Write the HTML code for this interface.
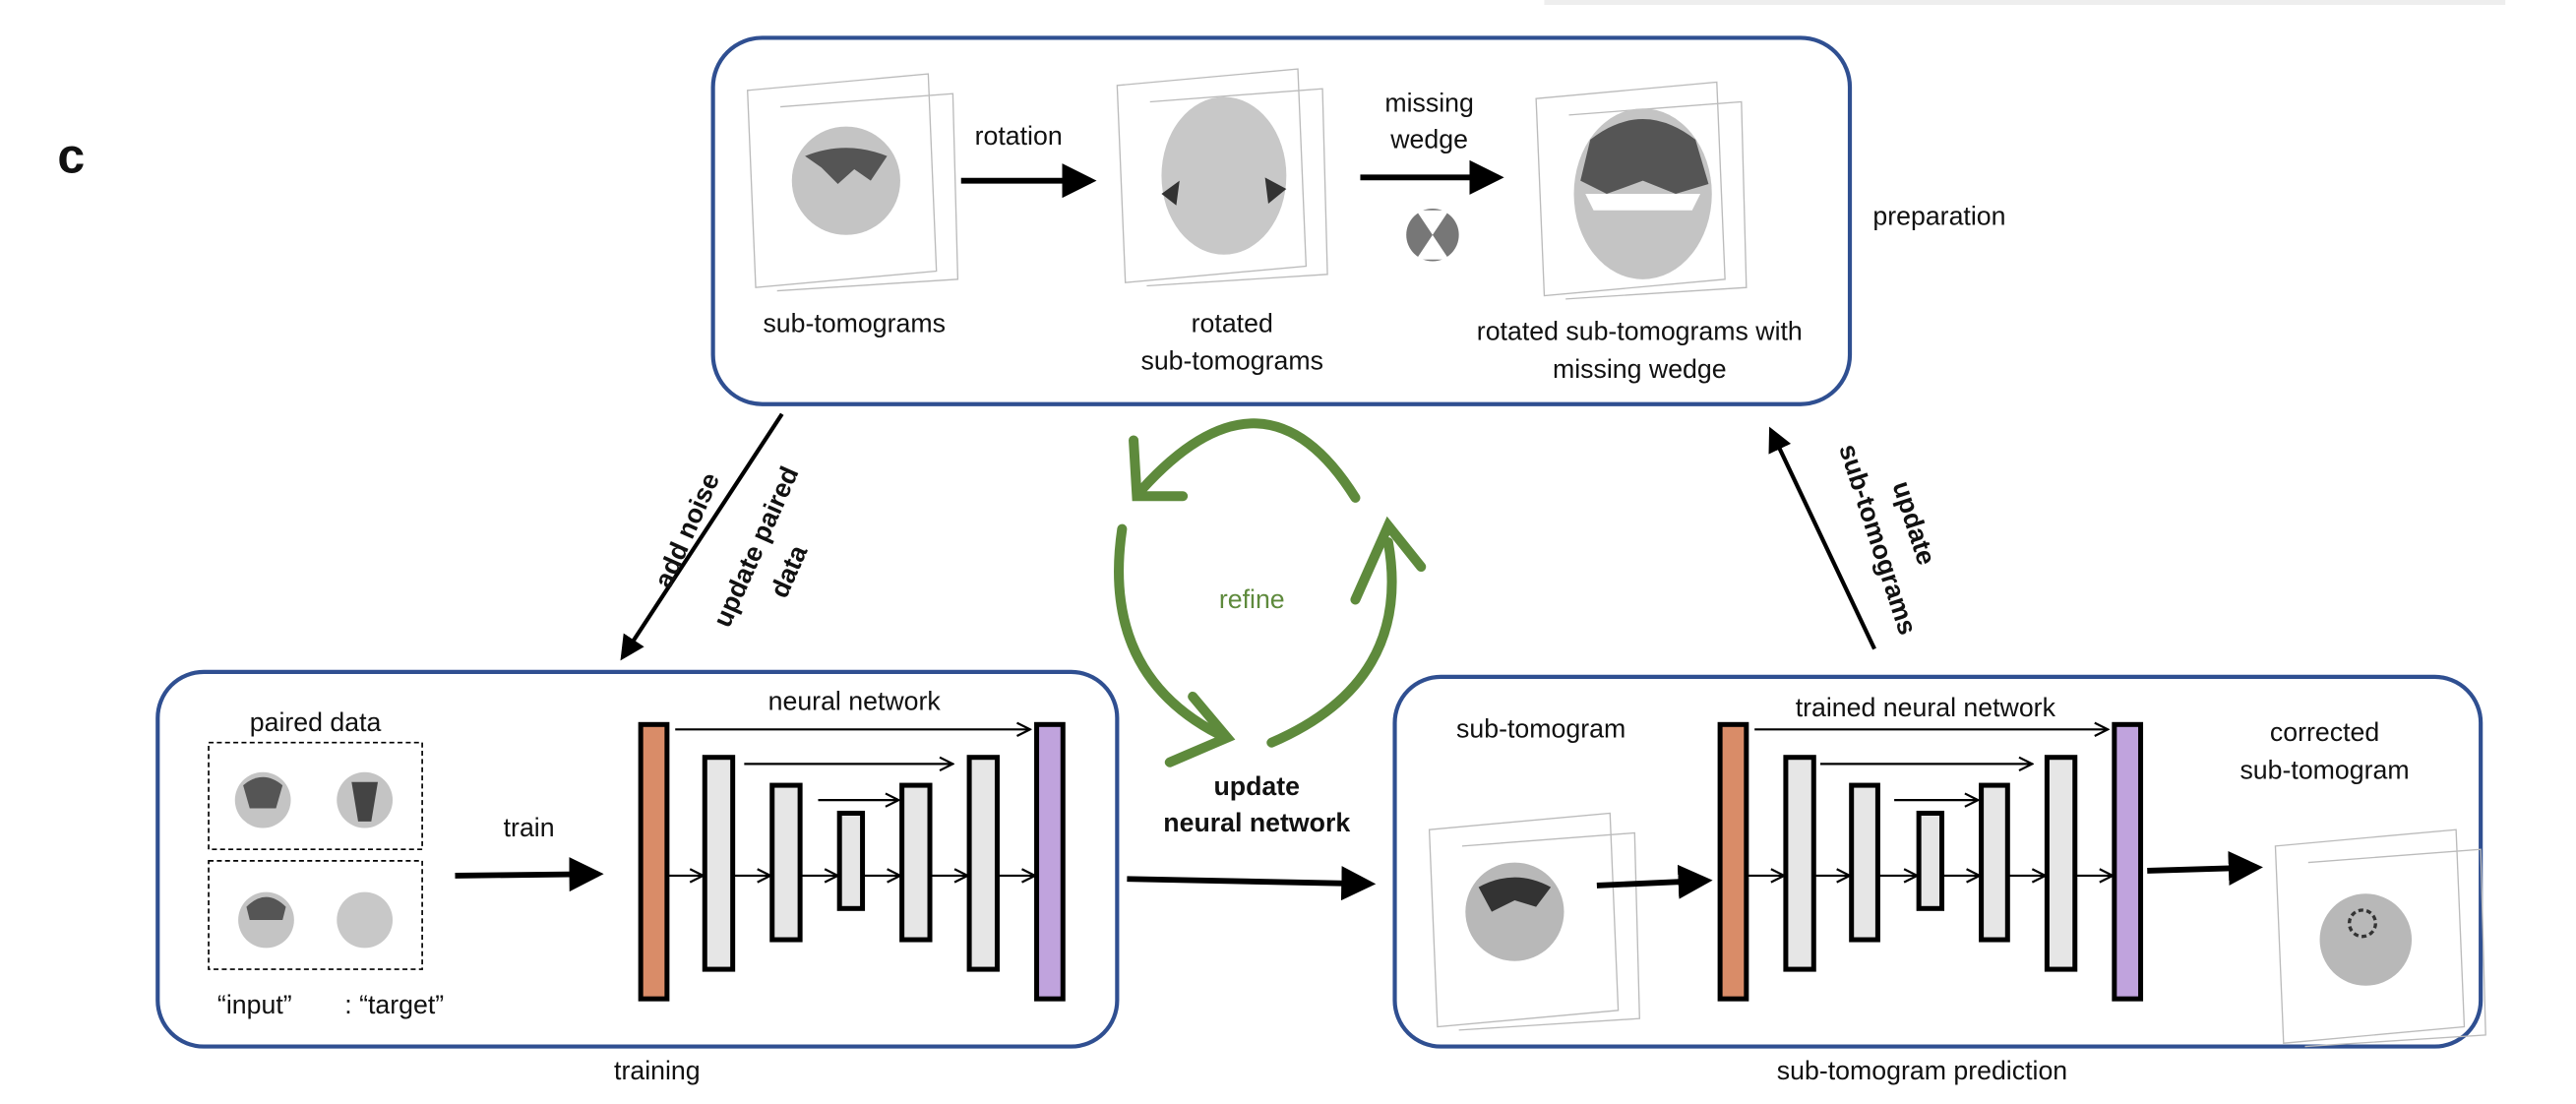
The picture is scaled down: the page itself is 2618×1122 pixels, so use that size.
<!DOCTYPE html>
<html><head><meta charset="utf-8"><style>
html,body{margin:0;padding:0;background:#fff;width:2618px;height:1122px;overflow:hidden}
svg{display:block}
text{font-family:"Liberation Sans",Arial,sans-serif;fill:#111}
</style></head><body>
<svg width="2618" height="1122" viewBox="0 0 1568 672" preserveAspectRatio="none" xmlns="http://www.w3.org/2000/svg">
<defs>
<marker id="ah" markerWidth="6" markerHeight="6" refX="5" refY="3" orient="auto" markerUnits="strokeWidth"><path d="M0,0 L6,3 L0,6 z" fill="#000"/></marker>
<marker id="sa" markerWidth="10" markerHeight="10" refX="9" refY="5" orient="auto" markerUnits="userSpaceOnUse"><path d="M1,1 L9,5 L1,9" fill="none" stroke="#000" stroke-width="1.3"/></marker>
<g id="cube"><path d="M0,10 L110,0 L115,120 L5,130 Z M20,20 L125,12 L128,125 L18,132" fill="none" stroke="#bbb" stroke-width="0.8"/></g>
</defs>
<rect x="940" y="0" width="585" height="3" fill="#eee"/>
<text x="35" y="105" font-size="30" font-weight="bold">c</text>

<!-- top box -->
<rect x="434" y="23" width="692" height="223" rx="30" fill="none" stroke="#2f4f91" stroke-width="2.5"/>
<use href="#cube" x="455" y="45"/>
<circle cx="515" cy="110" r="33" fill="#c4c4c4"/>
<path d="M490,95 Q515,85 540,95 L530,110 L520,103 L510,112 L500,102 Z" fill="#555"/>
<line x1="585" y1="110" x2="664" y2="110" stroke="#000" stroke-width="3.5" marker-end="url(#ah)"/>
<text x="620" y="88" font-size="16" text-anchor="middle">rotation</text>
<use href="#cube" x="680" y="42"/>
<ellipse cx="745" cy="107" rx="38" ry="48" fill="#c8c8c8"/>
<path d="M707,118 L718,110 L716,125 Z M783,115 L770,108 L772,124 Z" fill="#333"/>
<line x1="828" y1="108" x2="912" y2="108" stroke="#000" stroke-width="3.5" marker-end="url(#ah)"/>
<text x="870" y="68" font-size="16" text-anchor="middle">missing</text>
<text x="870" y="90" font-size="16" text-anchor="middle">wedge</text>
<circle cx="872" cy="143" r="16" fill="#777"/>
<path d="M862,128 L882,128 L872,143 Z M862,158 L882,158 L872,143 Z" fill="#fff"/>
<use href="#cube" x="935" y="50"/>
<ellipse cx="1000" cy="118" rx="42" ry="52" fill="#c4c4c4"/>
<path d="M968,85 Q1000,60 1032,85 L1040,112 L1020,118 L1000,110 L978,118 L962,110 Z" fill="#555"/>
<path d="M965,118 L1035,118 L1030,128 L970,128 Z" fill="#fff"/>
<text x="520" y="202" font-size="16" text-anchor="middle">sub-tomograms</text>
<text x="750" y="202" font-size="16" text-anchor="middle">rotated</text>
<text x="750" y="225" font-size="16" text-anchor="middle">sub-tomograms</text>
<text x="998" y="207" font-size="16" text-anchor="middle">rotated sub-tomograms with</text>
<text x="998" y="230" font-size="16" text-anchor="middle">missing wedge</text>
<text x="1140" y="137" font-size="16">preparation</text>

<!-- connectors -->
<line x1="476" y1="252" x2="379" y2="400" stroke="#000" stroke-width="2.5" marker-end="url(#ah)"/>
<text transform="translate(423,325) rotate(-66)" font-size="16" font-weight="bold" text-anchor="middle">add noise</text>
<text transform="translate(465,335) rotate(-66)" font-size="16" font-weight="bold" text-anchor="middle">update paired</text>
<text transform="translate(485,350) rotate(-66)" font-size="16" font-weight="bold" text-anchor="middle">data</text>
<line x1="1141" y1="395" x2="1078" y2="262" stroke="#000" stroke-width="2.5" marker-end="url(#ah)"/>
<text transform="translate(1160,320) rotate(72)" font-size="16" font-weight="bold" text-anchor="middle">update</text>
<text transform="translate(1138,330) rotate(72)" font-size="16" font-weight="bold" text-anchor="middle">sub-tomograms</text>

<!-- refine -->
<g fill="none" stroke="#5e8a3c" stroke-width="6" stroke-linecap="round">
<path d="M825,303 Q770,215 695,298"/>
<polyline points="690,268 692,302 720,302"/>
<path d="M683,322 Q670,410 742,447"/>
<polyline points="726,424 747,449 712,464"/>
<path d="M774,452 Q860,415 845,330"/>
<polyline points="825,365 845,320 865,345"/>
</g>
<text x="762" y="370" font-size="16" text-anchor="middle" style="fill:#5e8a3c">refine</text>
<text x="765" y="484" font-size="16" font-weight="bold" text-anchor="middle">update</text>
<text x="765" y="506" font-size="16" font-weight="bold" text-anchor="middle">neural network</text>
<line x1="686" y1="535" x2="834" y2="538" stroke="#000" stroke-width="3.5" marker-end="url(#ah)"/>

<!-- bottom left -->
<rect x="96" y="409" width="584" height="228" rx="28" fill="none" stroke="#2f4f91" stroke-width="2.5"/>
<text x="192" y="445" font-size="16" text-anchor="middle">paired data</text>
<rect x="127" y="452" width="130" height="65" fill="none" stroke="#000" stroke-dasharray="3,2" stroke-width="1"/>
<rect x="127" y="524" width="130" height="66" fill="none" stroke="#000" stroke-dasharray="3,2" stroke-width="1"/>
<circle cx="160" cy="487" r="17" fill="#c4c4c4"/><path d="M148,478 Q160,468 172,478 L168,492 L152,492 Z" fill="#555"/>
<circle cx="222" cy="487" r="17" fill="#c4c4c4"/><path d="M214,476 L230,476 L226,500 L218,500 Z" fill="#444"/>
<circle cx="162" cy="560" r="17" fill="#c4c4c4"/><path d="M150,552 Q162,540 174,552 L172,560 L152,560 Z" fill="#555"/>
<circle cx="222" cy="560" r="17" fill="#c8c8c8"/>
<text x="155" y="617" font-size="16" text-anchor="middle">“input”</text>
<text x="240" y="617" font-size="16" text-anchor="middle">: “target”</text>
<text x="322" y="509" font-size="16" text-anchor="middle">train</text>
<line x1="277" y1="533" x2="364" y2="532" stroke="#000" stroke-width="3.5" marker-end="url(#ah)"/>
<text x="520" y="432" font-size="16" text-anchor="middle">neural network</text>
<g stroke="#000" stroke-width="3">
<rect x="390" y="441" width="16" height="167" fill="#d98c68"/>
<rect x="429" y="461" width="17" height="129" fill="#e6e6e6"/>
<rect x="470" y="478" width="17" height="94" fill="#e6e6e6"/>
<rect x="511" y="495" width="14" height="58" fill="#e6e6e6"/>
<rect x="549" y="478" width="17" height="94" fill="#e6e6e6"/>
<rect x="590" y="461" width="17" height="129" fill="#e6e6e6"/>
<rect x="631" y="441" width="16" height="167" fill="#c0a3dd"/>
</g>
<g stroke="#000" stroke-width="1.3">
<line x1="411" y1="444" x2="627" y2="444" marker-end="url(#sa)"/>
<line x1="453" y1="465" x2="580" y2="465" marker-end="url(#sa)"/>
<line x1="498" y1="487" x2="547" y2="487" marker-end="url(#sa)"/>
<line x1="406" y1="533" x2="428" y2="533" marker-end="url(#sa)"/>
<line x1="446" y1="533" x2="469" y2="533" marker-end="url(#sa)"/>
<line x1="487" y1="533" x2="510" y2="533" marker-end="url(#sa)"/>
<line x1="525" y1="533" x2="548" y2="533" marker-end="url(#sa)"/>
<line x1="566" y1="533" x2="589" y2="533" marker-end="url(#sa)"/>
<line x1="607" y1="533" x2="630" y2="533" marker-end="url(#sa)"/>
</g>
<text x="400" y="657" font-size="16" text-anchor="middle">training</text>

<!-- bottom right -->
<rect x="849" y="412" width="661" height="225" rx="28" fill="none" stroke="#2f4f91" stroke-width="2.5"/>
<text x="938" y="449" font-size="16" text-anchor="middle">sub-tomogram</text>
<use href="#cube" x="870" y="495"/>
<circle cx="922" cy="555" r="30" fill="#b8b8b8"/>
<path d="M900,540 Q922,528 944,540 L935,552 L922,548 L908,555 Z" fill="#333"/>
<line x1="972" y1="539" x2="1039" y2="536" stroke="#000" stroke-width="3.5" marker-end="url(#ah)"/>
<text x="1172" y="436" font-size="16" text-anchor="middle">trained neural network</text>
<g stroke="#000" stroke-width="3">
<rect x="1047" y="441" width="16" height="167" fill="#d98c68"/>
<rect x="1087" y="461" width="17" height="129" fill="#e6e6e6"/>
<rect x="1127" y="478" width="16" height="94" fill="#e6e6e6"/>
<rect x="1168" y="495" width="14" height="58" fill="#e6e6e6"/>
<rect x="1206" y="478" width="16" height="94" fill="#e6e6e6"/>
<rect x="1246" y="461" width="17" height="129" fill="#e6e6e6"/>
<rect x="1287" y="441" width="16" height="167" fill="#c0a3dd"/>
</g>
<g stroke="#000" stroke-width="1.3">
<line x1="1068" y1="444" x2="1283" y2="444" marker-end="url(#sa)"/>
<line x1="1108" y1="465" x2="1237" y2="465" marker-end="url(#sa)"/>
<line x1="1153" y1="487" x2="1204" y2="487" marker-end="url(#sa)"/>
<line x1="1063" y1="533" x2="1086" y2="533" marker-end="url(#sa)"/>
<line x1="1104" y1="533" x2="1126" y2="533" marker-end="url(#sa)"/>
<line x1="1143" y1="533" x2="1167" y2="533" marker-end="url(#sa)"/>
<line x1="1182" y1="533" x2="1205" y2="533" marker-end="url(#sa)"/>
<line x1="1222" y1="533" x2="1245" y2="533" marker-end="url(#sa)"/>
<line x1="1263" y1="533" x2="1286" y2="533" marker-end="url(#sa)"/>
</g>
<text x="1415" y="451" font-size="16" text-anchor="middle">corrected</text>
<text x="1415" y="474" font-size="16" text-anchor="middle">sub-tomogram</text>
<line x1="1307" y1="530" x2="1374" y2="528" stroke="#000" stroke-width="3.5" marker-end="url(#ah)"/>
<use href="#cube" x="1385" y="505"/>
<circle cx="1440" cy="572" r="28" fill="#b8b8b8"/>
<circle cx="1438" cy="562" r="8" fill="none" stroke="#333" stroke-width="2" stroke-dasharray="3,2"/>
<text x="1170" y="657" font-size="16" text-anchor="middle">sub-tomogram prediction</text>
</svg>
</body></html>
